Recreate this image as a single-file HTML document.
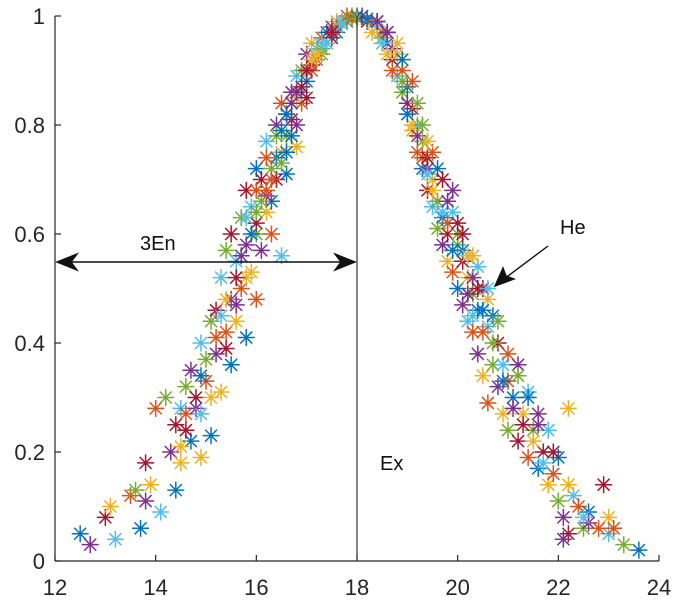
<!DOCTYPE html>
<html><head><meta charset="utf-8"><style>
html,body{margin:0;padding:0;background:#fff;}
svg{display:block;font-family:"Liberation Sans",Arial,sans-serif;}
</style></head><body>
<svg id="chart" width="685" height="608" viewBox="0 0 685 608" xmlns="http://www.w3.org/2000/svg">
<g id="marks"></g>
<g id="axes"></g>
<g id="annot"></g>
</svg>
<script>
const xVals=[12.5,12.7,13.0,13.1,13.2,13.5,13.6,13.7,13.8,13.8,13.9,14.1,14.0,14.2,14.4,14.3,14.4,14.5,14.5,14.6,14.6,14.7,14.7,14.8,14.9,14.9,15.0,15.1,15.1,15.2,15.2,15.3,15.3,15.4,15.4,15.5,15.5,15.5,15.6,15.6,15.7,15.7,15.8,15.8,15.8,15.9,15.9,16.0,16.0,16.0,16.1,16.1,16.2,16.2,16.3,16.3,16.3,16.4,16.4,16.5,16.5,16.5,16.6,16.6,16.7,16.7,16.8,16.8,16.9,16.9,17.0,17.0,17.1,17.1,17.2,17.3,17.3,17.4,17.5,17.5,17.6,17.7,17.8,17.9,
18.0,18.1,18.2,18.3,18.4,18.5,18.5,18.6,18.7,18.7,18.8,18.8,18.9,18.9,19.0,19.0,19.1,19.1,19.2,19.2,19.3,19.3,19.4,19.4,19.5,19.5,19.6,19.6,19.7,19.7,19.8,19.8,19.9,19.9,20.0,20.0,20.1,20.1,20.2,20.2,20.3,20.3,20.4,20.4,20.5,20.5,20.6,20.6,20.7,20.7,20.8,20.8,20.9,20.9,21.0,21.0,21.1,21.2,21.2,21.3,21.4,21.4,21.5,21.6,21.6,21.7,21.8,21.8,21.9,22.0,22.0,22.1,22.2,22.2,22.3,22.4,22.5,22.6,22.6,22.9,23.0,23.0,23.1,23.3,23.6,22.1,
16.6,16.8,17.0,17.2,17.4,16.4,16.2,16.0,15.8,19.0,19.3,19.6,19.9,20.2,18.6,18.8,16.9,17.1,17.3,17.6,18.4,18.6,19.1,19.4,
16.2,16.4,16.6,16.8,17.0,17.2,17.4,17.6,17.8,16.5,16.7,16.9,17.1,17.3,16.0,16.1,15.9,15.7,15.6,15.4,15.3,15.2,15.0,14.9,14.8,14.6,14.5,15.8,16.3,16.5,16.7,15.6,15.4,15.1,14.9,16.2,16.0,16.6,16.8,17.0,
18.3,18.5,18.7,18.9,19.0,19.2,19.4,19.5,19.7,19.8,20.0,20.1,20.3,20.4,20.6,20.3,20.5,20.7,20.9,21.1,21.3,21.5,21.7,19.1,19.3,19.6,19.8,20.0,20.2,20.4,19.5,19.2,18.9,18.6,20.1,20.3,20.6,21.0,21.2,21.4,21.6,21.9,22.2,22.5,22.8,20.8,20.5,19.9,19.7,19.4,
17.7,17.9,18.0,18.2,18.4,17.5,18.6];
const yVals=[0.05,0.03,0.08,0.1,0.04,0.12,0.13,0.06,0.11,0.18,0.14,0.09,0.28,0.30,0.13,0.2,0.25,0.18,0.28,0.27,0.32,0.22,0.35,0.30,0.19,0.40,0.33,0.44,0.23,0.38,0.46,0.31,0.52,0.42,0.57,0.36,0.48,0.6,0.44,0.55,0.5,0.63,0.41,0.58,0.68,0.53,0.65,0.48,0.6,0.72,0.57,0.7,0.64,0.77,0.6,0.72,0.66,0.8,0.7,0.75,0.56,0.84,0.78,0.71,0.86,0.81,0.76,0.89,0.84,0.9,0.88,0.93,0.91,0.95,0.94,0.96,0.93,0.97,0.98,0.96,0.99,0.99,1.0,1.0,
1.0,1.0,0.99,0.99,0.98,0.97,0.96,0.95,0.94,0.92,0.93,0.89,0.9,0.86,0.87,0.84,0.83,0.79,0.8,0.75,0.77,0.72,0.72,0.68,0.7,0.65,0.66,0.61,0.63,0.58,0.6,0.55,0.64,0.53,0.58,0.5,0.47,0.55,0.52,0.44,0.42,0.49,0.46,0.38,0.5,0.34,0.43,0.29,0.36,0.45,0.32,0.4,0.27,0.36,0.33,0.24,0.3,0.36,0.22,0.27,0.31,0.19,0.24,0.17,0.27,0.2,0.14,0.24,0.16,0.11,0.19,0.08,0.05,0.28,0.12,0.1,0.06,0.09,0.07,0.14,0.08,0.05,0.06,0.03,0.02,0.04,
0.82,0.85,0.9,0.92,0.95,0.74,0.67,0.62,0.52,0.82,0.74,0.66,0.57,0.49,0.97,0.95,0.86,0.9,0.94,0.97,0.99,0.97,0.8,0.71,
0.74,0.78,0.82,0.86,0.9,0.93,0.95,0.98,0.99,0.79,0.84,0.87,0.92,0.95,0.68,0.66,0.6,0.56,0.52,0.48,0.45,0.41,0.37,0.34,0.28,0.24,0.21,0.63,0.7,0.73,0.78,0.47,0.39,0.3,0.27,0.68,0.64,0.75,0.8,0.85,
0.97,0.95,0.9,0.88,0.82,0.78,0.74,0.68,0.64,0.62,0.6,0.57,0.52,0.5,0.48,0.45,0.42,0.4,0.33,0.28,0.25,0.22,0.18,0.88,0.8,0.72,0.66,0.62,0.56,0.54,0.75,0.84,0.92,0.97,0.6,0.56,0.5,0.38,0.34,0.3,0.25,0.2,0.14,0.08,0.06,0.44,0.46,0.68,0.7,0.77,
0.985,0.995,0.995,0.995,0.99,0.97,0.93];
const xTicks=[12,14,16,18,20,22,24];
const yTicks=[0,0.2,0.4,0.6,0.8,1];
const yTickLabels=["0","0.2","0.4","0.6","0.8","1"];
const colors=["#0072BD","#D95319","#EDB120","#7E2F8E","#77AC30","#4DBEEE","#A2142F"];
const X0=55,X1=659,Y0=561,Y1=16;
const sx=v=>X0+(v-12)/(24-12)*(X1-X0);
const sy=v=>Y0-(v-0)/(1-0)*(Y0-Y1);
const NS="http://www.w3.org/2000/svg";
function mk(tag,attrs,parent){const e=document.createElementNS(NS,tag);for(const k in attrs)e.setAttribute(k,attrs[k]);parent.appendChild(e);return e;}
const marks=document.getElementById('marks');
for(let i=0;i<xVals.length;i++){
  const cx=sx(xVals[i]),cy=sy(yVals[i]),r=8.5,d=6;
  const g=mk('g',{stroke:colors[(i*3)%7],'stroke-width':1.5},marks);
  
  
  mk('line',{x1:cx-r,y1:cy,x2:cx+r,y2:cy},g);
  mk('line',{x1:cx,y1:cy-r,x2:cx,y2:cy+r},g);
  mk('line',{x1:cx-d,y1:cy-d,x2:cx+d,y2:cy+d},g);
  mk('line',{x1:cx-d,y1:cy+d,x2:cx+d,y2:cy-d},g);
}
const axes=document.getElementById('axes');
const xa=mk('line',{x1:X0,y1:Y0,x2:X1,y2:Y0,stroke:'#262626','stroke-width':1.2},axes);


const ya=mk('line',{x1:X0,y1:Y0,x2:X0,y2:Y1,stroke:'#262626','stroke-width':1.2},axes);


xTicks.forEach(t=>{
  const x=sx(t);
  mk('line',{x1:x,y1:Y0,x2:x,y2:Y0-6,stroke:'#262626','stroke-width':1.2},axes);
  const tx=mk('text',{x:x,y:595,'text-anchor':'middle','font-size':22,fill:'#262626'},axes);
  tx.textContent=t;
  
  
});
yTicks.forEach((t,i)=>{
  const y=sy(t);
  mk('line',{x1:X0,y1:y,x2:X0+6,y2:y,stroke:'#262626','stroke-width':1.2},axes);
  const tx=mk('text',{x:X0-10,y:y+8,'text-anchor':'end','font-size':22,fill:'#262626'},axes);
  tx.textContent=yTickLabels[i];
  
  
});
const an=document.getElementById('annot');
const exLine=mk('line',{x1:sx(18),y1:sy(1),x2:sx(18),y2:Y0,stroke:'#333','stroke-width':1.2},an);


const ay=262;
const arr=mk('g',{stroke:'#111','stroke-width':1.4,fill:'none'},an);


mk('line',{x1:X0+2,y1:ay,x2:sx(18)-2,y2:ay},arr);
mk('path',{d:`M${X0+2} ${ay} l20 -8 l-6 8 l6 8 z`,fill:'#111'},arr);
mk('path',{d:`M${sx(18)-2} ${ay} l-20 -8 l6 8 l-6 8 z`,fill:'#111'},arr);
const t1=mk('text',{x:140,y:250,'font-size':20,fill:'#111'},an);t1.textContent='3En';


const t2=mk('text',{x:380,y:470,'font-size':20,fill:'#111'},an);t2.textContent='Ex';


const t3=mk('text',{x:560,y:234,'font-size':20,fill:'#111'},an);t3.textContent='He';


const ha=mk('g',{stroke:'#111','stroke-width':1.4},an);


mk('line',{x1:548,y1:246,x2:500,y2:282},ha);
mk('path',{d:'M495 286 l8 -18 l3 8 l8 3 z',fill:'#111'},ha);
</script>
</body></html>
